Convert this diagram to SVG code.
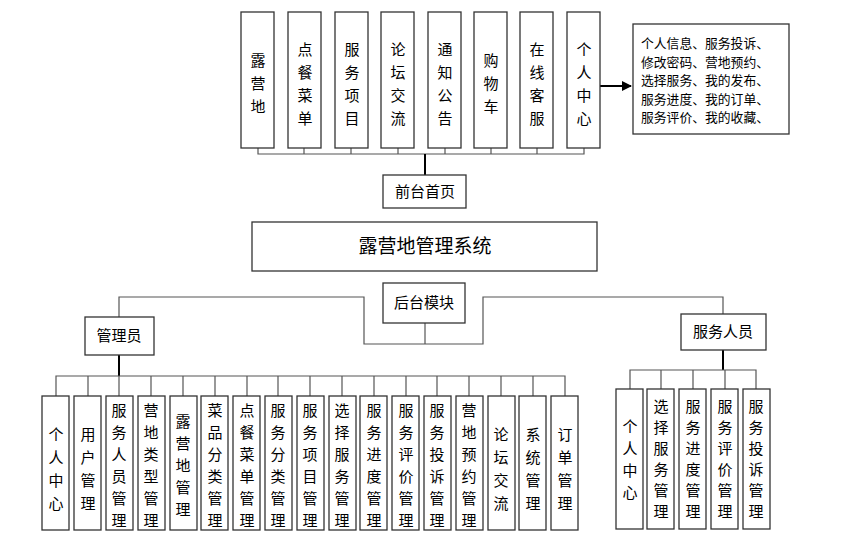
<svg xmlns="http://www.w3.org/2000/svg" width="845" height="544" viewBox="0 0 845 544">
<style>
rect{fill:#fff;stroke:#333;stroke-width:1.3}
text{font-family:"Noto Sans CJK SC","Liberation Sans",sans-serif;fill:#000;text-anchor:middle}
.v{font-size:15px}
.h{font-size:15px}
.i{font-size:12.8px;text-anchor:start}
.l{fill:none;stroke:#555;stroke-width:1.2}
.k{fill:none;stroke:#000;stroke-width:2}
</style>
<defs><marker id="a" markerWidth="10" markerHeight="10" refX="9" refY="5" orient="auto" markerUnits="userSpaceOnUse"><path d="M0,0L10,5L0,10z" fill="#000"/></marker></defs>
<g id="connectors">
<path class="l" d="M258,148V154H584V148M304,148V154M351,148V154M398,148V154M445,148V154M491,148V154M537,148V154"/>
<path class="k" d="M425,154V175"/>
<path class="k" d="M600,86H631" marker-end="url(#a)"/>
<path class="l" d="M119,317V297H364V344H483V297H723V314"/>
<path class="l" d="M425,323V344"/>
<path class="k" d="M119,355V376"/>
<path class="l" d="M56,396V376H565V396M88,376V396M119,376V396M151,376V396M183,376V396M215,376V396M247,376V396M278,376V396M310,376V396M342,376V396M374,376V396M406,376V396M437,376V396M469,376V396M501,376V396M533,376V396"/>
<path class="k" d="M723,350V370"/>
<path class="l" d="M630,389V370H756V389M661,370V389M693,370V389M725,370V389"/>
</g>
<g id="top">
<g id="t1"><rect x="241" y="12" width="33" height="136"/><text class="v" font-size="16"><tspan x="258" y="66">露</tspan><tspan x="258" y="89">营</tspan><tspan x="258" y="112">地</tspan></text></g>
<g id="t2"><rect x="288" y="12" width="33" height="136"/><text class="v" font-size="16"><tspan x="305" y="55">点</tspan><tspan x="305" y="78">餐</tspan><tspan x="305" y="101">菜</tspan><tspan x="305" y="124">单</tspan></text></g>
<g id="t3"><rect x="335" y="12" width="33" height="136"/><text class="v" font-size="16"><tspan x="352" y="55">服</tspan><tspan x="352" y="78">务</tspan><tspan x="352" y="101">项</tspan><tspan x="352" y="124">目</tspan></text></g>
<g id="t4"><rect x="381" y="12" width="33" height="136"/><text class="v" font-size="16"><tspan x="398" y="55">论</tspan><tspan x="398" y="78">坛</tspan><tspan x="398" y="101">交</tspan><tspan x="398" y="124">流</tspan></text></g>
<g id="t5"><rect x="428" y="12" width="33" height="136"/><text class="v" font-size="16"><tspan x="445" y="55">通</tspan><tspan x="445" y="78">知</tspan><tspan x="445" y="101">公</tspan><tspan x="445" y="124">告</tspan></text></g>
<g id="t6"><rect x="474" y="12" width="33" height="136"/><text class="v" font-size="16"><tspan x="491" y="66">购</tspan><tspan x="491" y="89">物</tspan><tspan x="491" y="112">车</tspan></text></g>
<g id="t7"><rect x="520" y="12" width="33" height="136"/><text class="v" font-size="16"><tspan x="537" y="55">在</tspan><tspan x="537" y="78">线</tspan><tspan x="537" y="101">客</tspan><tspan x="537" y="124">服</tspan></text></g>
<g id="t8"><rect x="567" y="12" width="33" height="136"/><text class="v" font-size="16"><tspan x="584" y="55">个</tspan><tspan x="584" y="78">人</tspan><tspan x="584" y="101">中</tspan><tspan x="584" y="124">心</tspan></text></g>
<g id="info"><rect x="633" y="24" width="156" height="110"/>
<text class="i" x="641" y="48">个人信息、服务投诉、</text>
<text class="i" x="641" y="66.5">修改密码、营地预约、</text>
<text class="i" x="641" y="85">选择服务、我的发布、</text>
<text class="i" x="641" y="103.5">服务进度、我的订单、</text>
<text class="i" x="641" y="122">服务评价、我的收藏、</text></g>
</g>
<g id="front"><rect x="383" y="175" width="83" height="33"/><text class="h" x="425" y="197">前台首页</text></g>
<g id="main"><rect x="252" y="222" width="345" height="49"/><text x="425" y="253" font-size="19">露营地管理系统</text></g>
<g id="back"><rect x="383" y="283" width="82" height="40"/><text class="h" x="424" y="308">后台模块</text></g>
<g id="admin"><rect x="85" y="317" width="69" height="38"/><text class="h" x="119" y="341">管理员</text></g>
<g id="staff"><rect x="681" y="314" width="85" height="36"/><text class="h" x="723" y="337">服务人员</text></g>
<g id="adminItems" class="v">
<g><rect x="42" y="396" width="27" height="134"/><text><tspan x="56" y="440">个</tspan><tspan x="56" y="463">人</tspan><tspan x="56" y="486">中</tspan><tspan x="56" y="509">心</tspan></text></g>
<g><rect x="74" y="396" width="27" height="134"/><text><tspan x="88" y="440">用</tspan><tspan x="88" y="463">户</tspan><tspan x="88" y="486">管</tspan><tspan x="88" y="509">理</tspan></text></g>
<g><rect x="106" y="396" width="27" height="134"/><text><tspan x="119" y="416">服</tspan><tspan x="119" y="438">务</tspan><tspan x="119" y="460">人</tspan><tspan x="119" y="482">员</tspan><tspan x="119" y="504">管</tspan><tspan x="119" y="526">理</tspan></text></g>
<g><rect x="138" y="396" width="27" height="134"/><text><tspan x="151" y="416">营</tspan><tspan x="151" y="438">地</tspan><tspan x="151" y="460">类</tspan><tspan x="151" y="482">型</tspan><tspan x="151" y="504">管</tspan><tspan x="151" y="526">理</tspan></text></g>
<g><rect x="170" y="396" width="27" height="134"/><text><tspan x="183" y="427">露</tspan><tspan x="183" y="449">营</tspan><tspan x="183" y="471">地</tspan><tspan x="183" y="493">管</tspan><tspan x="183" y="515">理</tspan></text></g>
<g><rect x="201" y="396" width="27" height="134"/><text><tspan x="215" y="416">菜</tspan><tspan x="215" y="438">品</tspan><tspan x="215" y="460">分</tspan><tspan x="215" y="482">类</tspan><tspan x="215" y="504">管</tspan><tspan x="215" y="526">理</tspan></text></g>
<g><rect x="233" y="396" width="27" height="134"/><text><tspan x="247" y="416">点</tspan><tspan x="247" y="438">餐</tspan><tspan x="247" y="460">菜</tspan><tspan x="247" y="482">单</tspan><tspan x="247" y="504">管</tspan><tspan x="247" y="526">理</tspan></text></g>
<g><rect x="265" y="396" width="27" height="134"/><text><tspan x="278" y="416">服</tspan><tspan x="278" y="438">务</tspan><tspan x="278" y="460">分</tspan><tspan x="278" y="482">类</tspan><tspan x="278" y="504">管</tspan><tspan x="278" y="526">理</tspan></text></g>
<g><rect x="297" y="396" width="27" height="134"/><text><tspan x="310" y="416">服</tspan><tspan x="310" y="438">务</tspan><tspan x="310" y="460">项</tspan><tspan x="310" y="482">目</tspan><tspan x="310" y="504">管</tspan><tspan x="310" y="526">理</tspan></text></g>
<g><rect x="329" y="396" width="27" height="134"/><text><tspan x="342" y="416">选</tspan><tspan x="342" y="438">择</tspan><tspan x="342" y="460">服</tspan><tspan x="342" y="482">务</tspan><tspan x="342" y="504">管</tspan><tspan x="342" y="526">理</tspan></text></g>
<g><rect x="360" y="396" width="27" height="134"/><text><tspan x="374" y="416">服</tspan><tspan x="374" y="438">务</tspan><tspan x="374" y="460">进</tspan><tspan x="374" y="482">度</tspan><tspan x="374" y="504">管</tspan><tspan x="374" y="526">理</tspan></text></g>
<g><rect x="392" y="396" width="27" height="134"/><text><tspan x="406" y="416">服</tspan><tspan x="406" y="438">务</tspan><tspan x="406" y="460">评</tspan><tspan x="406" y="482">价</tspan><tspan x="406" y="504">管</tspan><tspan x="406" y="526">理</tspan></text></g>
<g><rect x="424" y="396" width="27" height="134"/><text><tspan x="437" y="416">服</tspan><tspan x="437" y="438">务</tspan><tspan x="437" y="460">投</tspan><tspan x="437" y="482">诉</tspan><tspan x="437" y="504">管</tspan><tspan x="437" y="526">理</tspan></text></g>
<g><rect x="456" y="396" width="27" height="134"/><text><tspan x="469" y="416">营</tspan><tspan x="469" y="438">地</tspan><tspan x="469" y="460">预</tspan><tspan x="469" y="482">约</tspan><tspan x="469" y="504">管</tspan><tspan x="469" y="526">理</tspan></text></g>
<g><rect x="488" y="396" width="27" height="134"/><text><tspan x="501" y="440">论</tspan><tspan x="501" y="463">坛</tspan><tspan x="501" y="486">交</tspan><tspan x="501" y="509">流</tspan></text></g>
<g><rect x="519" y="396" width="27" height="134"/><text><tspan x="533" y="440">系</tspan><tspan x="533" y="463">统</tspan><tspan x="533" y="486">管</tspan><tspan x="533" y="509">理</tspan></text></g>
<g><rect x="551" y="396" width="27" height="134"/><text><tspan x="565" y="440">订</tspan><tspan x="565" y="463">单</tspan><tspan x="565" y="486">管</tspan><tspan x="565" y="509">理</tspan></text></g>
</g>
<g id="staffItems" class="v">
<g><rect x="616" y="389" width="27" height="140"/><text><tspan x="630" y="432">个</tspan><tspan x="630" y="454">人</tspan><tspan x="630" y="476">中</tspan><tspan x="630" y="498">心</tspan></text></g>
<g><rect x="647" y="389" width="27" height="140"/><text><tspan x="661" y="412">选</tspan><tspan x="661" y="433">择</tspan><tspan x="661" y="454">服</tspan><tspan x="661" y="475">务</tspan><tspan x="661" y="496">管</tspan><tspan x="661" y="517">理</tspan></text></g>
<g><rect x="679" y="389" width="27" height="140"/><text><tspan x="693" y="412">服</tspan><tspan x="693" y="433">务</tspan><tspan x="693" y="454">进</tspan><tspan x="693" y="475">度</tspan><tspan x="693" y="496">管</tspan><tspan x="693" y="517">理</tspan></text></g>
<g><rect x="711" y="389" width="27" height="140"/><text><tspan x="725" y="412">服</tspan><tspan x="725" y="433">务</tspan><tspan x="725" y="454">评</tspan><tspan x="725" y="475">价</tspan><tspan x="725" y="496">管</tspan><tspan x="725" y="517">理</tspan></text></g>
<g><rect x="743" y="389" width="27" height="140"/><text><tspan x="756" y="412">服</tspan><tspan x="756" y="433">务</tspan><tspan x="756" y="454">投</tspan><tspan x="756" y="475">诉</tspan><tspan x="756" y="496">管</tspan><tspan x="756" y="517">理</tspan></text></g>
</g>
</svg>
